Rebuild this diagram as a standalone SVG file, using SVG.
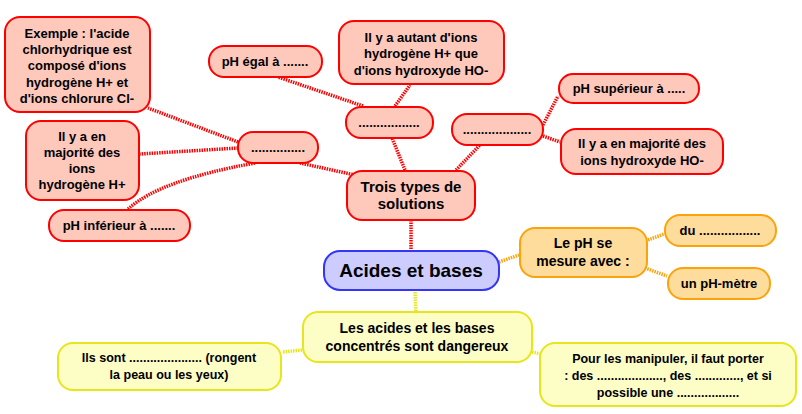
<svg xmlns="http://www.w3.org/2000/svg" width="802" height="414" viewBox="0 0 802 414">
<style>
text{font-family:"Liberation Sans",Arial,sans-serif;font-weight:bold;font-size:13px;fill:#000;text-anchor:middle}
.r rect{fill:#fec8bb;stroke:#f00;stroke-width:2}
.o rect{fill:#fedc9c;stroke:#fca20b;stroke-width:2}
.y rect{fill:#fdfdc6;stroke:#e6e61a;stroke-width:2}
.c line,.c path{fill:none;stroke-width:3.5;stroke-dasharray:1.5 1}
</style>
<rect width="802" height="414" fill="#fff"/>
<g class="c">
<g stroke="#f00">
<line x1="411" y1="220" x2="411" y2="250"/>
<line x1="405" y1="170" x2="392" y2="138"/>
<line x1="456" y1="170" x2="480" y2="145"/>
<line x1="355" y1="175" x2="300" y2="163"/>
<line x1="363" y1="106" x2="278" y2="77"/>
<line x1="395" y1="106" x2="410" y2="85"/>
<line x1="543" y1="125" x2="558" y2="96"/>
<line x1="543" y1="136" x2="560" y2="142"/>
<line x1="238" y1="142" x2="148" y2="108"/>
<line x1="238" y1="148" x2="140" y2="154"/>
<path d="M255 163 Q160 180 128 209"/>
</g>
<g stroke="#fca20b">
<line x1="499" y1="262" x2="519" y2="255"/>
<line x1="648" y1="240" x2="664" y2="234"/>
<line x1="645" y1="268" x2="667" y2="276"/>
</g>
<g stroke="#e6e61a">
<line x1="415" y1="292" x2="416" y2="311"/>
<line x1="302" y1="350" x2="282" y2="352"/>
<line x1="532" y1="352" x2="541" y2="354"/>
</g>
</g>
<g id="n-example" class="r"><rect x="5" y="17" width="145" height="95" rx="15"/><text x="77" y="38">Exemple : l'acide</text><text x="77" y="54">chlorhydrique est</text><text x="77" y="70">composé d'ions</text><text x="77" y="87">hydrogène H+ et</text><text x="77" y="103">d'ions chlorure Cl-</text></g>
<g id="n-phegal" class="r"><rect x="209" y="46" width="113" height="31" rx="15"/><text x="265" y="66">pH égal à .......</text></g>
<g id="n-autant" class="r"><rect x="339" y="21" width="165" height="63" rx="15"/><text x="421" y="42">Il y a autant d'ions</text><text x="421" y="58">hydrogène H+ que</text><text x="421" y="75">d'ions hydroxyde HO-</text></g>
<g id="n-neutre" class="r"><rect x="346" y="107" width="87" height="31" rx="15"/><text x="389" y="127">.................</text></g>
<g id="n-acide" class="r"><rect x="238" y="132" width="80" height="31" rx="15"/><text x="278" y="152">...............</text></g>
<g id="n-majH" class="r"><rect x="26" y="121" width="113" height="79" rx="15"/><text x="82" y="141">Il y a en</text><text x="82" y="157">majorité des</text><text x="82" y="173">ions</text><text x="82" y="189">hydrogène H+</text></g>
<g id="n-phinf" class="r"><rect x="49" y="210" width="141" height="31" rx="15"/><text x="119" y="230">pH inférieur à .......</text></g>
<g id="n-trois" class="r"><rect x="347" y="171" width="128" height="49" rx="15"/><text x="411" y="192" style="font-size:15px">Trois types de</text><text x="411" y="209" style="font-size:15px">solutions</text></g>
<g id="n-base" class="r"><rect x="452" y="114" width="91" height="31" rx="15"/><text x="497" y="134">...................</text></g>
<g id="n-phsup" class="r"><rect x="559" y="74" width="140" height="29" rx="14"/><text x="629" y="93">pH supérieur à .....</text></g>
<g id="n-majHO" class="r"><rect x="561" y="129" width="162" height="45" rx="15"/><text x="642" y="148">Il y a en majorité des</text><text x="642" y="165">ions hydroxyde HO-</text></g>
<g id="n-center"><rect x="324" y="251" width="175" height="39" rx="16" fill="#ccccfe" stroke="#3535f5" stroke-width="2"/><text x="411" y="277" style="font-size:19px">Acides et bases</text></g>
<g id="n-mesure" class="o"><rect x="520" y="228" width="127" height="49" rx="15"/><text x="583" y="248" style="font-size:14px">Le pH se</text><text x="583" y="266" style="font-size:14px">mesure avec :</text></g>
<g id="n-du" class="o"><rect x="665" y="215" width="111" height="31" rx="15"/><text x="720" y="235">du .................</text></g>
<g id="n-phm" class="o"><rect x="668" y="268" width="102" height="31" rx="15"/><text x="719" y="288">un pH-mètre</text></g>
<g id="n-danger" class="y"><rect x="303" y="312" width="229" height="50" rx="15"/><text x="417" y="333" style="font-size:14px">Les acides et les bases</text><text x="417" y="351" style="font-size:14px">concentrés sont dangereux</text></g>
<g id="n-ronger" class="y"><rect x="58" y="343" width="223" height="47" rx="15"/><text x="169" y="362" style="font-size:12.5px">Ils sont ..................... (rongent</text><text x="169" y="379" style="font-size:12.5px">la peau ou les yeux)</text></g>
<g id="n-porter" class="y"><rect x="540" y="343" width="256" height="63" rx="15"/><text x="668" y="363" style="font-size:12.5px">Pour les manipuler, il faut porter</text><text x="668" y="380" style="font-size:12.5px">: des ..................., des ............., et si</text><text x="668" y="397" style="font-size:12.5px">possible une ..................</text></g>
</svg>
